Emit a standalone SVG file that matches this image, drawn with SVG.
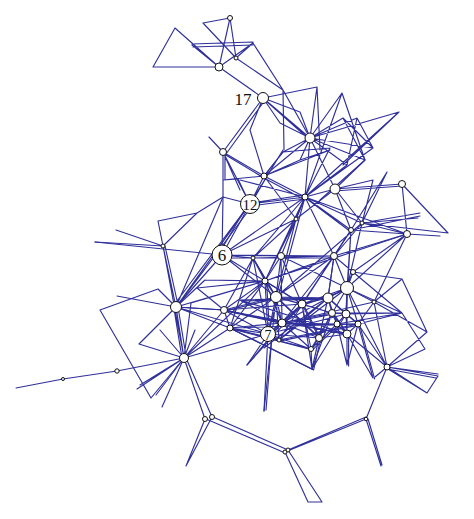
<svg xmlns="http://www.w3.org/2000/svg" width="474" height="519" viewBox="0 0 474 519">
<style>
.e{fill:none;stroke:#30309a;stroke-width:1.15;stroke-linecap:round}
.n{fill:#fff;stroke:#111;stroke-width:1}
.t{font-family:"Liberation Serif","Times New Roman",serif;fill:#111;text-anchor:middle}
</style>
<rect width="474" height="519" fill="#fff"/>
<g id="connectors">
<path class="e" d="M175 28L153 67M153 67L219 67M175 28L219 67M203 23L230 18M203 23L236 58M230 18L219 67M230 18L236 58M192 44L253 42M193 47L253 45M192 45L219 67M253 43L219 67M253 43L236 58M219 67L263 98M236 58L283 90M253 43L283 90M283 90L284 150M283 90L310 138"/>
<path class="e" d="M263 98L317 87M317 87L310 138M263 98L310 138M265 100L310 140M263 98L280 123M280 123L310 138M263 98L223 152M265 100L226 154M263 98L300 112M300 112L310 138M263 98L250 130M250 130L264 176M317 87L320 150"/>
<path class="e" d="M310 138L342 93M342 93L365 160M342 93L305 197M310 138L399 112M399 112L343 165M399 112L305 197M310 138L343 118M343 118L365 160M310 138L357 118M357 118L347 165M343 118L373 148M357 118L373 148M310 138L373 148M310 138L283 152M310 138L264 176M310 138L305 197M310 138L300 160M310 138L347 165M310 138L365 160M283 152L330 148M300 160L330 150M283 152L264 176M300 160L264 176M310 138L335 189M373 148L305 197M365 160L320 200M347 165L305 197M330 148L305 197M330 150L264 176"/>
<path class="e" d="M223 152L209 137M223 152L264 176M224 154L264 178M223 152L250 204M223 152L240 190M223 180L238 179M223 180L223 197M223 152L223 180M225 153L225 180M238 179L250 204M223 197L197 213M197 213L158 221M158 221L163 246M197 213L163 246M163 246L95 242M116 230L163 246M223 197L250 204M223 180L264 176M250 204L264 176M252 202L266 178M250 204L222 255M248 204L220 252M250 204L305 197M250 206L305 199M252 203L304 195M250 204L283 150M264 176L305 197M264 178L303 199M264 176L296 219M264 176L283 152M240 180L305 197M223 197L222 255"/>
<path class="e" d="M95 242L222 255M222 255L281 256M222 255L253 258M222 255L334 256M224 258L334 258M222 255L265 281M222 255L176 307M222 255L305 197M222 255L296 219M253 258L334 256M253 258L305 197M253 258L296 219M281 256L305 197M281 256L296 219M281 256L334 256M265 281L296 219M265 281L305 197M253 258L276 297M222 255L276 297M296 219L276 297M296 219L265 281"/>
<path class="e" d="M163 246L176 307M165 246L178 305M163 246L184 358M163 246L172 290M176 307L117 296M100 310L158 289M158 289L176 307M100 310L151 398M151 398L184 358M176 307L184 358M178 307L186 356M174 309L182 358M176 307L139 344M139 344L184 358M176 307L265 281M176 307L224 310M176 307L205 280M205 280L265 281M197 288L224 310M197 288L265 281M191 303L265 281M191 303L184 358M176 307L250 204M178 305L252 206M174 305L248 206M176 307L223 197"/>
<path class="e" d="M184 358L117 371M117 371L63 379M63 379L16 388M184 358L137 389M184 358L140 385M184 358L162 407M184 358L156 395M184 358L205 419M186 358L212 417M205 419L186 466M212 417L186 466M184 358L224 310M184 358L230 328M184 358L195 330M184 358L160 330M184 358L265 281M184 358L268 334"/>
<path class="e" d="M206 419L283 452M213 417L288 450M285 452L366 419M288 450L366 417M285 452L308 502M288 450L322 502M308 502L322 502M366 419L387 367M366 419L381 466M368 419L382 465"/>
<path class="e" d="M387 367L438 376M387 367L438 374M387 369L436 378M387 367L427 393M388 369L427 393M438 376L427 393M387 367L425 349M387 367L427 332M427 332L402 279M425 349L402 313M387 367L358 324M387 367L347 334M387 367L375 377M387 367L374 302M387 367L347 288M402 279L374 302M402 279L353 272M427 332L374 302M402 313L347 288M402 313L346 314M402 313L358 324M402 313L332 313M402 313L337 324M402 313L353 272"/>
<path class="e" d="M335 189L402 184M335 191L402 186M402 184L407 234M402 184L448 233M448 233L362 223M335 189L351 230M335 189L362 223M351 230L407 234M362 223L407 234M362 223L420 213M362 223L418 218M351 230L420 216M362 223L387 172M351 230L387 172M334 256L351 230M334 256L407 234M334 256L362 223M334 256L305 197M334 256L353 272M353 272L407 234M407 234L440 236M335 189L305 197M335 189L296 219M335 189L365 160M335 189L373 180M362 223L373 180M305 197L351 230M307 199L351 232M305 197L362 223M305 197L296 219M305 197L407 234M351 230L347 288M362 223L347 288M407 234L347 288M334 256L328 298M353 272L347 288M407 234L374 302M351 230L346 314"/>
<path class="e" d="M265 281L276 297M265 281L224 310M265 281L230 328M265 281L268 334M265 281L282 323M265 281L302 304M276 297L224 310M276 297L230 328M276 297L268 334M276 297L282 323M276 297L302 304M276 297L328 298M276 297L279 340M276 297L319 338M276 297L332 313M224 310L230 328M224 310L268 334M224 310L282 323M224 310L302 304M230 328L268 334M230 328L282 323M230 328L279 340M230 328L311 349M230 328L312 369M268 334L282 323M268 334L279 340M268 334L302 304M268 334L319 338M268 334L311 349M268 334L264 411M272 336L266 410M268 334L247 365M282 323L302 304M282 323L328 298M282 323L332 313M282 323L319 338M282 323L311 349M282 323L337 324M302 304L328 298M302 304L347 288M302 304L332 313M302 304L319 338M302 304L311 349M302 304L312 369M328 298L347 288M328 298L332 313M328 298L346 314M328 298L337 324M328 298L319 338M347 288L346 314M347 288L358 324M347 288L374 302M347 288L347 334M347 288L334 256M347 288L353 272M332 313L346 314M332 313L337 324M332 313L347 334M332 313L319 338M346 314L358 324M346 314L347 334M346 314L337 324M337 324L358 324M337 324L347 334M337 324L311 349M358 324L347 334M358 324L374 302M347 334L319 338M347 334L347 365M319 338L311 349M319 338L312 369M311 349L312 369M347 334L373 378M358 324L373 378M358 324L347 365M337 324L347 365"/>
<path class="e" d="M265 281L281 256M265 281L334 256M276 297L334 256M276 297L281 256M302 304L334 256M328 298L334 256M347 288L281 256M282 323L281 256M282 323L334 256M302 304L281 256M265 281L253 258M276 297L253 258M268 334L253 258M224 310L253 258M230 328L253 258M268 334L176 307M224 310L176 307M230 328L176 307M240 300L282 323M240 300L328 298M240 300L347 334M224 310L347 334M230 328L358 324M268 334L346 314M279 340L347 288M279 340L328 298M279 340L358 324M282 323L374 302M311 349L347 288M312 369L332 313M264 348L328 298M247 365L302 304M247 365L282 323M312 369L346 314M264 411L276 297M279 340L334 256M265 281L407 234M276 297L362 223M302 304L351 230M268 334L305 197"/>
<path class="e" transform="translate(1.6 0.9)" d="M265 281L302 304M276 297L328 298M224 310L282 323M230 328L311 349M268 334L302 304M282 323L332 313M302 304L347 288M328 298L346 314M332 313L347 334M346 314L358 324M337 324L311 349M319 338L312 369M347 334L347 365M358 324L373 378M276 297L224 310M265 281L268 334M282 323L337 324M302 304L319 338M276 297L319 338M230 328L312 369M224 310L347 334M240 300L328 298M279 340L358 324"/>
</g>
<g id="n_top"><circle class="n" cx="230" cy="18" r="2.5"/></g>
<g id="n_b"><circle class="n" cx="219" cy="67" r="4"/></g>
<g id="n_c"><circle class="n" cx="236" cy="58" r="2"/></g>
<g id="n17"><circle class="n" cx="263" cy="98" r="5.5"/><text class="t" x="243" y="105" font-size="17">17</text></g>
<g id="n_h1"><circle class="n" cx="310" cy="138" r="5"/></g>
<g id="n_a"><circle class="n" cx="223" cy="152" r="3.5"/></g>
<g id="n_bn"><circle class="n" cx="264" cy="176" r="3"/></g>
<g id="n12"><circle class="n" cx="250" cy="204" r="9.5"/><text class="t" x="250" y="209.5" font-size="15">12</text></g>
<g id="n_h2"><circle class="n" cx="305" cy="197" r="3"/></g>
<g id="n_cn"><circle class="n" cx="335" cy="189" r="5"/></g>
<g id="n_d"><circle class="n" cx="402" cy="184" r="3.5"/></g>
<g id="n_e"><circle class="n" cx="296" cy="219" r="2"/></g>
<g id="n_f"><circle class="n" cx="351" cy="230" r="2.5"/></g>
<g id="n_f2"><circle class="n" cx="362" cy="223" r="2"/></g>
<g id="n_g"><circle class="n" cx="407" cy="234" r="3.5"/></g>
<g id="n6"><circle class="n" cx="222" cy="255" r="10"/><text class="t" x="222" y="261" font-size="17">6</text></g>
<g id="n_hn"><circle class="n" cx="253" cy="258" r="2"/></g>
<g id="n_i"><circle class="n" cx="281" cy="256" r="3.5"/></g>
<g id="n_j"><circle class="n" cx="334" cy="256" r="3.5"/></g>
<g id="n_k"><circle class="n" cx="353" cy="272" r="2.5"/></g>
<g id="n_l"><circle class="n" cx="163" cy="246" r="2"/></g>
<g id="n_m"><circle class="n" cx="176" cy="307" r="5.5"/></g>
<g id="n_n"><circle class="n" cx="184" cy="358" r="4.5"/></g>
<g id="n_o"><circle class="n" cx="265" cy="281" r="3"/></g>
<g id="n_p"><circle class="n" cx="276" cy="297" r="5.5"/></g>
<g id="n_q"><circle class="n" cx="224" cy="310" r="3.5"/></g>
<g id="n_r"><circle class="n" cx="230" cy="328" r="3"/></g>
<g id="n7"><circle class="n" cx="268" cy="334" r="7.5"/><text class="t" x="268" y="339.5" font-size="14">7</text></g>
<g id="n_s"><circle class="n" cx="282" cy="323" r="4"/></g>
<g id="n_s2"><circle class="n" cx="279" cy="340" r="2"/></g>
<g id="n_x1"><circle class="n" cx="302" cy="304" r="4"/></g>
<g id="n_x2"><circle class="n" cx="328" cy="298" r="5"/></g>
<g id="n_x5"><circle class="n" cx="347" cy="288" r="6.5" stroke-width="1.6"/></g>
<g id="n_x3"><circle class="n" cx="332" cy="313" r="3.5"/></g>
<g id="n_x4"><circle class="n" cx="346" cy="314" r="4"/></g>
<g id="n_x6"><circle class="n" cx="337" cy="324" r="3"/></g>
<g id="n_x7"><circle class="n" cx="358" cy="324" r="3"/></g>
<g id="n_x8"><circle class="n" cx="347" cy="334" r="4"/></g>
<g id="n_x9"><circle class="n" cx="319" cy="338" r="3.5"/></g>
<g id="n_x10"><circle class="n" cx="311" cy="349" r="2.5"/></g>
<g id="n_x11"><circle class="n" cx="374" cy="302" r="2"/></g>
<g id="n_y1"><circle class="n" cx="387" cy="367" r="3"/></g>
<g id="n_z1"><circle class="n" cx="205" cy="419" r="2.5"/></g>
<g id="n_z2"><circle class="n" cx="212" cy="417" r="2.5"/></g>
<g id="n_z3"><circle class="n" cx="285" cy="452" r="2"/></g>
<g id="n_z4"><circle class="n" cx="288" cy="450" r="2"/></g>
<g id="n_z5"><circle class="n" cx="366" cy="419" r="1.8"/></g>
<g id="n_l1"><circle class="n" cx="117" cy="371" r="2.2"/></g>
<g id="n_l2"><circle class="n" cx="63" cy="379" r="1.5"/></g>
</svg>
